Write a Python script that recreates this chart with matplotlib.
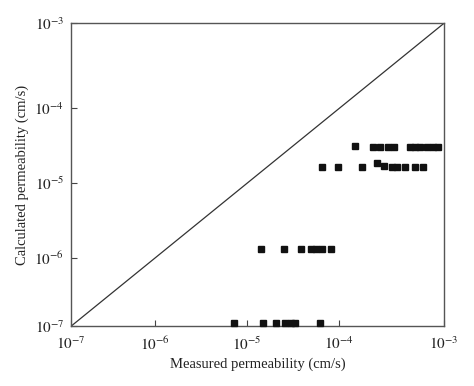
import matplotlib.pyplot as plt
import matplotlib.ticker as mticker

plt.rcParams['font.family'] = ['Liberation Serif', 'DejaVu Serif']
plt.rcParams['mathtext.fontset'] = 'stix'

# measured vs calculated permeability (cm/s)
measured_row1 = [7.16e-6, 1.49e-5, 2.05e-5, 2.59e-5, 2.97e-5, 3.28e-5, 6.16e-5]
calculated_row1 = [1.36e-7, 1.36e-7, 1.36e-7, 1.36e-7, 1.36e-7, 1.36e-7, 1.36e-7]

measured_row2 = [1.41e-5, 2.48e-5, 3.84e-5, 4.9e-5, 5.62e-5, 6.45e-5, 8.18e-5]
calculated_row2 = [1.32e-6, 1.32e-6, 1.32e-6, 1.32e-6, 1.32e-6, 1.32e-6, 1.32e-6]

measured_row3 = [6.49e-5, 9.68e-5, 1.78e-4, 2.59e-4, 3.08e-4, 3.77e-4, 4.27e-4,
                 5.21e-4, 6.54e-4, 7.98e-4]
calculated_row3 = [1.66e-5, 1.66e-5, 1.66e-5, 1.85e-5, 1.68e-5, 1.66e-5, 1.66e-5,
                   1.66e-5, 1.66e-5, 1.62e-5]

measured_row4 = [1.49e-4, 2.34e-4, 2.79e-4, 3.41e-4, 3.96e-4, 5.77e-4, 6.54e-4,
                 7.59e-4, 8.82e-4, 1.05e-3, 1.19e-3]
calculated_row4 = [3.1e-5, 3.0e-5, 3.05e-5, 3.0e-5, 3.05e-5, 3.05e-5, 3.0e-5,
                   3.05e-5, 3.0e-5, 3.05e-5, 3.0e-5]

measured = measured_row1 + measured_row2 + measured_row3 + measured_row4
calculated = calculated_row1 + calculated_row2 + calculated_row3 + calculated_row4

lo, hi = 1.23e-7, 1.37e-3
tick_vals = [lo, 1e-6, 1e-5, 1e-4, hi]
tick_labels = ['$10^{-7}$', '$10^{-6}$', '$10^{-5}$', '$10^{-4}$', '$10^{-3}$']

fig = plt.figure(figsize=(4.74, 3.86), dpi=100)
ax = fig.add_axes([0.150, 0.155, 0.787, 0.785])

ax.plot([lo, hi], [lo, hi], color='#333333', linewidth=0.9)
ax.plot(measured, calculated, linestyle='none', marker='s', markersize=4.8,
        color='#111111', clip_on=False, zorder=3)

ax.set_xscale('log')
ax.set_yscale('log')
ax.set_xlim(lo, hi)
ax.set_ylim(lo, hi)
ax.set_xticks(tick_vals)
ax.set_xticklabels(tick_labels)
ax.set_yticks(tick_vals)
ax.set_yticklabels(tick_labels)
ax.xaxis.set_minor_locator(mticker.NullLocator())
ax.yaxis.set_minor_locator(mticker.NullLocator())
ax.tick_params(direction='in', length=4, width=0.8, color='#444444',
               labelsize=11, labelcolor='#222222')
ax.tick_params(axis='x', pad=7)
ax.tick_params(axis='y', pad=5)

for s in ax.spines.values():
    s.set_color('#555555')
    s.set_linewidth(1.0)

ax.set_xlabel('Measured permeability (cm/s)', fontsize=10.5, color='#222222', labelpad=3)
ax.set_ylabel('Calculated permeability (cm/s)', fontsize=10.5, color='#222222', labelpad=4)

fig.savefig('out.png', dpi=100)
